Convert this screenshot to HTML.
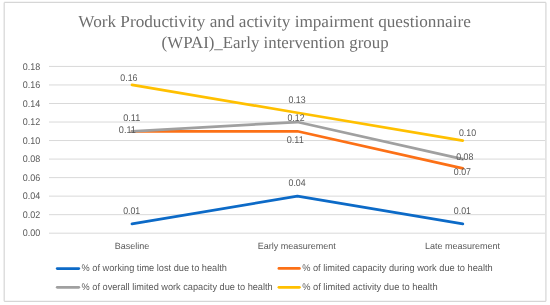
<!DOCTYPE html><html><head><meta charset="utf-8"><style>
html,body{margin:0;padding:0;background:#fff;width:550px;height:305px;overflow:hidden}
svg{display:block}
.s{font-family:"Liberation Sans",sans-serif;fill:#595959}
.t{font-family:"Liberation Serif",serif;fill:#6e6e6e}
</style></head><body>
<svg width="550" height="305" viewBox="0 0 550 305" text-rendering="geometricPrecision">
<rect x="0" y="0" width="550" height="305" fill="#fff"/>
<g style="filter:grayscale(1)"><rect x="0" y="0" width="1" height="1" fill="#fff"/></g>
<g stroke="#d6d6d6" stroke-width="1.2" fill="none">
<line x1="4.2" y1="2.4" x2="545.9" y2="2.4"/>
<line x1="4.2" y1="301.3" x2="545.9" y2="301.3"/>
<line x1="4.2" y1="2.4" x2="4.2" y2="301.3"/>
<line x1="545.9" y1="2.4" x2="545.9" y2="301.3"/>
</g>
<g opacity="0.999">
<text class="t" x="78.3" y="27.2" font-size="17" textLength="392.5" lengthAdjust="spacingAndGlyphs">Work Productivity and activity impairment questionnaire</text>
<text class="t" x="161.6" y="48.4" font-size="17" textLength="227" lengthAdjust="spacingAndGlyphs">(WPAI)_Early intervention group</text>
</g>
<g stroke="#d9d9d9" stroke-width="1">
<line x1="49" y1="233.20" x2="545" y2="233.20"/>
<line x1="49" y1="214.67" x2="545" y2="214.67"/>
<line x1="49" y1="196.14" x2="545" y2="196.14"/>
<line x1="49" y1="177.61" x2="545" y2="177.61"/>
<line x1="49" y1="159.08" x2="545" y2="159.08"/>
<line x1="49" y1="140.55" x2="545" y2="140.55"/>
<line x1="49" y1="122.02" x2="545" y2="122.02"/>
<line x1="49" y1="103.49" x2="545" y2="103.49"/>
<line x1="49" y1="84.96" x2="545" y2="84.96"/>
<line x1="49" y1="66.43" x2="545" y2="66.43"/>
</g>
<g class="s" font-size="9.7" text-anchor="end" opacity="0.999">
<text x="40.2" y="236.30" textLength="17.4" lengthAdjust="spacingAndGlyphs">0.00</text>
<text x="40.2" y="217.77" textLength="17.4" lengthAdjust="spacingAndGlyphs">0.02</text>
<text x="40.2" y="199.24" textLength="17.4" lengthAdjust="spacingAndGlyphs">0.04</text>
<text x="40.2" y="180.71" textLength="17.4" lengthAdjust="spacingAndGlyphs">0.06</text>
<text x="40.2" y="162.18" textLength="17.4" lengthAdjust="spacingAndGlyphs">0.08</text>
<text x="40.2" y="143.65" textLength="17.4" lengthAdjust="spacingAndGlyphs">0.10</text>
<text x="40.2" y="125.12" textLength="17.4" lengthAdjust="spacingAndGlyphs">0.12</text>
<text x="40.2" y="106.59" textLength="17.4" lengthAdjust="spacingAndGlyphs">0.14</text>
<text x="40.2" y="88.06" textLength="17.4" lengthAdjust="spacingAndGlyphs">0.16</text>
<text x="40.2" y="69.53" textLength="17.4" lengthAdjust="spacingAndGlyphs">0.18</text>
</g>
<g class="s" font-size="9" text-anchor="middle" opacity="0.999">
<text x="132" y="249.2">Baseline</text>
<text x="296.8" y="249.2">Early measurement</text>
<text x="462.5" y="249.2">Late measurement</text>
</g>
<g fill="none" stroke-width="2.75" stroke-linecap="round" stroke-linejoin="round">
<polyline stroke="#0C6AC7" points="132.00,223.94 297.40,196.14 462.80,223.94"/>
<polyline stroke="#FC7016" points="132.00,131.28 297.40,131.28 462.80,168.34"/>
<polyline stroke="#A0A0A0" points="132.00,131.28 297.40,122.02 462.80,159.08"/>
<polyline stroke="#FFC000" points="132.00,84.96 297.40,112.75 462.80,140.55"/>
</g>
<g class="s" font-size="9.7" text-anchor="middle" opacity="0.999">
<text x="128.9" y="81.4" textLength="17.1" lengthAdjust="spacingAndGlyphs">0.16</text>
<text x="131.7" y="121" textLength="17.1" lengthAdjust="spacingAndGlyphs">0.11</text>
<text x="127.4" y="133.4" textLength="17.1" lengthAdjust="spacingAndGlyphs">0.11</text>
<text x="131.7" y="213.6" textLength="17.1" lengthAdjust="spacingAndGlyphs">0.01</text>
<text x="297.1" y="102.6" textLength="17.1" lengthAdjust="spacingAndGlyphs">0.13</text>
<text x="296" y="121.3" textLength="17.1" lengthAdjust="spacingAndGlyphs">0.12</text>
<text x="295.2" y="142.5" textLength="17.1" lengthAdjust="spacingAndGlyphs">0.11</text>
<text x="297.1" y="186" textLength="17.1" lengthAdjust="spacingAndGlyphs">0.04</text>
<text x="467.5" y="136" textLength="17.1" lengthAdjust="spacingAndGlyphs">0.10</text>
<text x="464.8" y="160.4" textLength="17.1" lengthAdjust="spacingAndGlyphs">0.08</text>
<text x="462.4" y="174.8" textLength="17.1" lengthAdjust="spacingAndGlyphs">0.07</text>
<text x="462.4" y="213.6" textLength="17.1" lengthAdjust="spacingAndGlyphs">0.01</text>
</g>
<line x1="57.2" y1="268.5" x2="78.8" y2="268.5" stroke="#0C6AC7" stroke-width="2.75" stroke-linecap="round"/>
<line x1="278.9" y1="268.4" x2="299.4" y2="268.4" stroke="#FC7016" stroke-width="2.75" stroke-linecap="round"/>
<line x1="57.2" y1="287.3" x2="78.8" y2="287.3" stroke="#A0A0A0" stroke-width="2.75" stroke-linecap="round"/>
<line x1="278.9" y1="287.3" x2="299.4" y2="287.3" stroke="#FFC000" stroke-width="2.75" stroke-linecap="round"/>
<g class="s" font-size="9.6" opacity="0.999">
<text x="81.6" y="271.1" textLength="145.3" lengthAdjust="spacingAndGlyphs">% of working time lost due to health</text>
<text x="302.2" y="271" textLength="190.5" lengthAdjust="spacingAndGlyphs">% of limited capacity during work due to health</text>
<text x="81.6" y="289.9" textLength="191.1" lengthAdjust="spacingAndGlyphs">% of overall limited work capacity due to health</text>
<text x="302.2" y="289.9" textLength="135.4" lengthAdjust="spacingAndGlyphs">% of limited activity due to health</text>
</g>
</svg></body></html>
